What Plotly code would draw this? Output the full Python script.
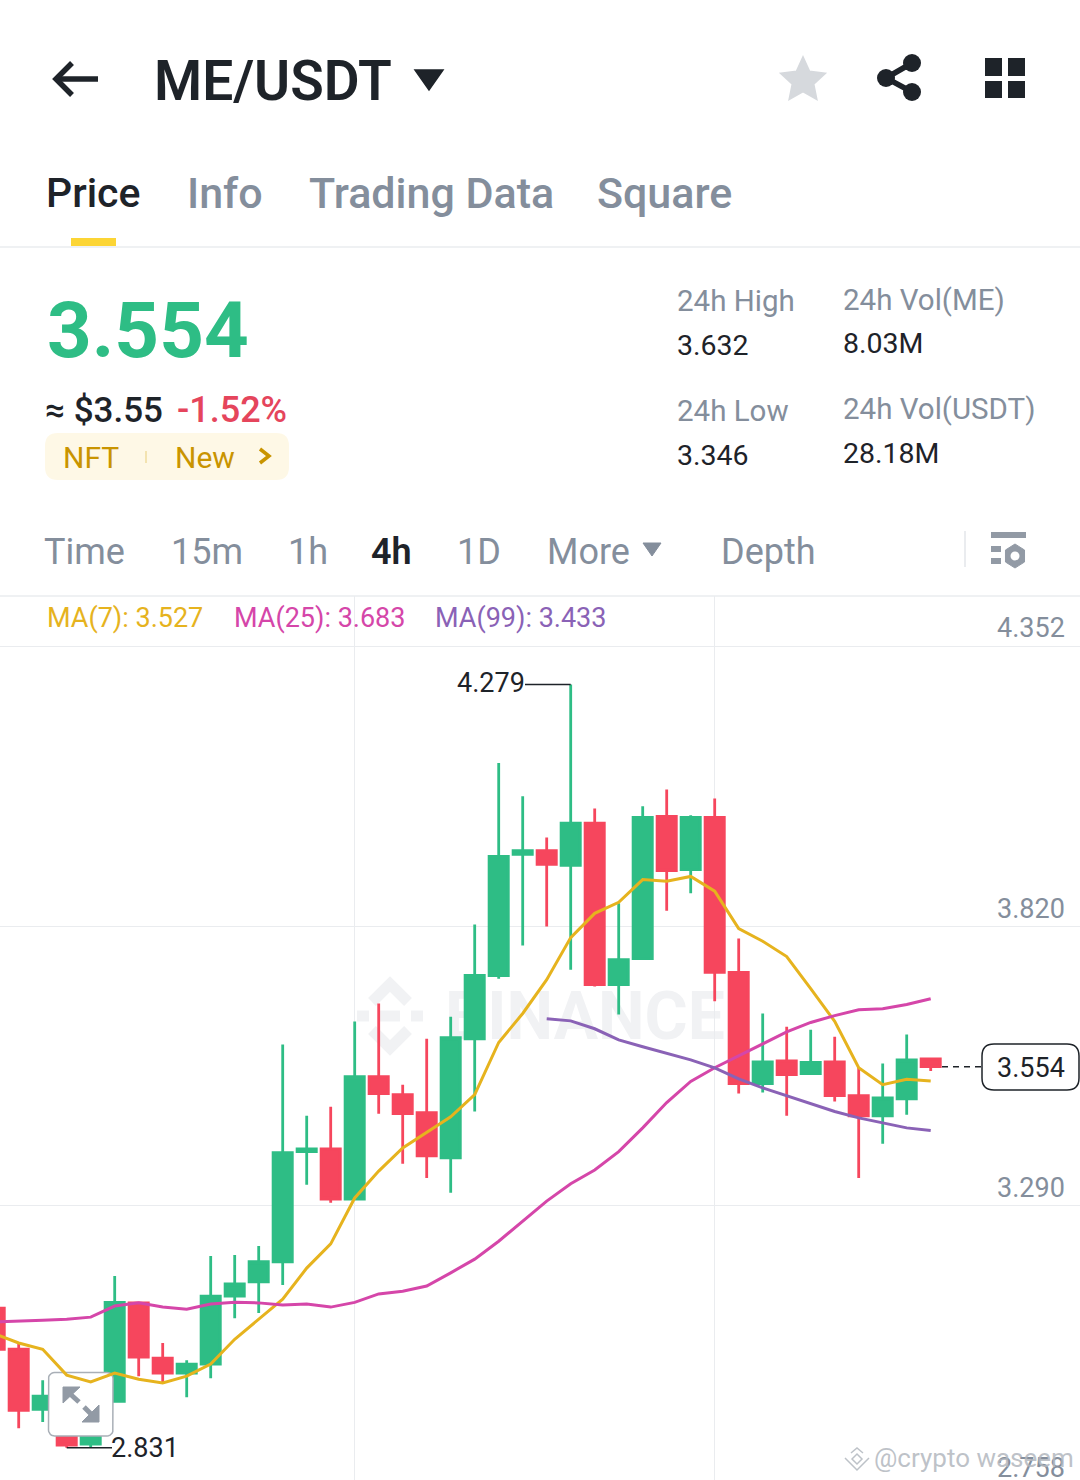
import math
import plotly.graph_objects as go

# ---- data --------------------------------------------------------------------
candle_index = list(range(-1, 39))
open_ = [3.096, 3.018, 2.904, 2.929, 2.838, 2.919, 3.106, 3.001, 2.973, 2.990,
         3.119, 3.146, 3.184, 3.393, 3.398, 3.303, 3.535, 3.501, 3.467, 3.381,
         3.607, 3.727, 3.957, 3.964, 3.936, 4.016, 3.710, 3.759, 4.029, 3.928,
         4.027, 3.733, 3.522, 3.565, 3.541, 3.563, 3.499, 3.461, 3.493, 3.569]
high = [3.110, 3.030, 2.959, 2.948, 2.938, 3.157, 3.107, 3.030, 2.997, 3.195,
        3.197, 3.214, 3.596, 3.461, 3.478, 3.640, 3.674, 3.520, 3.607, 3.649,
        3.824, 4.130, 4.067, 3.989, 4.279, 4.044, 3.864, 4.048, 4.080, 4.031,
        4.063, 3.797, 3.655, 3.630, 3.624, 3.611, 3.552, 3.560, 3.615, 3.571]
low = [3.018, 2.868, 2.880, 2.831, 2.832, 2.919, 2.967, 2.952, 2.927, 2.963,
       3.077, 3.087, 3.140, 3.330, 3.296, 3.303, 3.465, 3.370, 3.343, 3.315,
       3.469, 3.721, 3.784, 3.820, 3.738, 3.706, 3.653, 3.759, 3.850, 3.883,
       3.678, 3.503, 3.505, 3.461, 3.541, 3.488, 3.343, 3.408, 3.463, 3.546]
close = [3.018, 2.902, 2.929, 2.836, 2.919, 3.107, 3.003, 2.973, 2.990, 3.119,
         3.142, 3.184, 3.391, 3.398, 3.303, 3.535, 3.503, 3.465, 3.385, 3.609,
         3.727, 3.953, 3.964, 3.938, 4.016, 3.710, 3.757, 4.027, 3.926, 4.027,
         3.733, 3.522, 3.563, 3.539, 3.562, 3.499, 3.461, 3.495, 3.567, 3.554]
ma7 = [3.047, 3.030, 3.018, 2.969, 2.956, 2.973, 2.961, 2.954, 2.967, 2.990,
       3.037, 3.075, 3.113, 3.172, 3.218, 3.305, 3.356, 3.400, 3.429, 3.459,
       3.501, 3.600, 3.655, 3.719, 3.799, 3.845, 3.866, 3.909, 3.906, 3.915,
       3.887, 3.816, 3.792, 3.763, 3.702, 3.640, 3.552, 3.520, 3.530, 3.527]
ma25 = [3.070, 3.071, 3.073, 3.075, 3.079, 3.100, 3.106, 3.098, 3.094, 3.104,
        3.107, 3.106, 3.102, 3.104, 3.098, 3.107, 3.123, 3.128, 3.138, 3.163,
        3.189, 3.223, 3.261, 3.299, 3.332, 3.358, 3.393, 3.438, 3.486, 3.526,
        3.552, 3.575, 3.598, 3.620, 3.638, 3.651, 3.662, 3.664, 3.672, 3.683]
ma99_index = list(range(22, 39))
ma99 = [3.645, 3.641, 3.626, 3.605, 3.592, 3.579, 3.567, 3.552, 3.531, 3.514,
        3.499, 3.484, 3.469, 3.457, 3.448, 3.438, 3.433]
price_ticks = [4.352, 3.820, 3.290, 2.758]
price_tick_labels = ["4.352", "3.820", "3.290", "2.758"]
time_grid = [14, 29]
last_price = 3.554
peak_index, peak_price = 23, 4.279
trough_index, trough_price = 2, 2.831

# ---- colours -----------------------------------------------------------------
GREEN, RED = "#2EBD85", "#F6465D"
DARK, GRAY = "#1E2329", "#848E9C"
GRID = "#EAECEF"
C7, C25, C99 = "#E6B31E", "#D546A9", "#8A62B6"
FONT = "Roboto"
WM = "#F1F2F4"

# ---- scales: a full-page pixel layer (x, y) and the price chart (x2, y2) ------
PX0, DX = 18.7, 24.0
SCALE = 0.001897
Y382 = 926.5
def k_of(px):
    return (px - PX0) / DX
def px_of(k):
    return PX0 + DX * k
def p_of(py):
    return 3.82 + (Y382 - py) * SCALE
def py_of(p):
    return Y382 + (3.82 - p) / SCALE
CHART_TOP = 596

fig = go.Figure()

# watermark sits under the candles, in the lower subplot layer
fig.add_trace(go.Scatter(x=[585], y=[1022], mode="text", text=["BINANCE"],
                         textfont=dict(family=FONT, size=66, color=WM, weight=700),
                         hoverinfo="skip", showlegend=False, xaxis="x", yaxis="y"))
fig.add_trace(go.Scatter(x=[372, 390, 408, None, 372, 390, 408, None, 357, 369, None, 411, 423, None, 380, 400],
                         y=[1002, 984, 1002, None, 1030, 1048, 1030, None, 1016, 1016, None, 1016, 1016, None, 1016, 1016],
                         mode="lines", line=dict(color=WM, width=11),
                         hoverinfo="skip", showlegend=False, xaxis="x", yaxis="y"))

fig.add_trace(go.Candlestick(
    x=candle_index, open=open_, high=high, low=low, close=close,
    increasing=dict(line=dict(color=GREEN, width=2.8), fillcolor=GREEN),
    decreasing=dict(line=dict(color=RED, width=2.8), fillcolor=RED),
    whiskerwidth=0, showlegend=False, xaxis="x2", yaxis="y2"))

# expand button lies over the candles but under the moving averages
def rrect_pts(x0, y0, x1, y1, r):
    pts = []
    for cx, cy, a0 in [(x1 - r, y0 + r, -90), (x1 - r, y1 - r, 0), (x0 + r, y1 - r, 90), (x0 + r, y0 + r, 180)]:
        for i in range(7):
            a = math.radians(a0 + 15 * i)
            pts.append((cx + r * math.cos(a), cy + r * math.sin(a)))
    pts.append(pts[0])
    return pts
btn = rrect_pts(48.5, 1372.5, 113, 1436, 6)
fig.add_trace(go.Scatter(x=[k_of(a) for a, _ in btn], y=[p_of(b) for _, b in btn],
                         mode="lines", fill="toself", fillcolor="white",
                         line=dict(color="#A9AFB7", width=1.5),
                         hoverinfo="skip", showlegend=False, xaxis="x2", yaxis="y2"))

for name, xs, ys, col in [("MA(7)", candle_index, ma7, C7),
                          ("MA(25)", candle_index, ma25, C25),
                          ("MA(99)", ma99_index, ma99, C99)]:
    fig.add_trace(go.Scatter(x=xs, y=ys, mode="lines", name=name,
                             line=dict(color=col, width=3),
                             showlegend=False, xaxis="x2", yaxis="y2"))

# ---- chrome ------------------------------------------------------------------
shapes, notes = [], []
NOLINE = dict(color="rgba(0,0,0,0)", width=0)
def S(**kw):
    kw.setdefault("xref", "x"); kw.setdefault("yref", "y")
    kw.setdefault("line", NOLINE)
    shapes.append(kw)
def hline(y, x0=0, x1=1080, color=GRID, w=1.5):
    S(type="line", x0=x0, x1=x1, y0=y, y1=y, line=dict(color=color, width=w))
def poly(pts, fill=None, color=None, w=0, closed=False):
    p = "M" + " L".join(f"{a:.2f},{b:.2f}" for a, b in pts)
    if fill or closed:
        p += " Z"
    S(type="path", path=p, fillcolor=fill or "rgba(0,0,0,0)",
      line=dict(color=color or "rgba(0,0,0,0)", width=w))
def rrect(x0, y0, x1, y1, r, fill, color=None, w=0):
    p = (f"M{x0+r},{y0} L{x1-r},{y0} Q{x1},{y0} {x1},{y0+r} L{x1},{y1-r} Q{x1},{y1} {x1-r},{y1} "
         f"L{x0+r},{y1} Q{x0},{y1} {x0},{y1-r} L{x0},{y0+r} Q{x0},{y0} {x0+r},{y0} Z")
    S(type="path", path=p, fillcolor=fill, line=dict(color=color or "rgba(0,0,0,0)", width=w))
def T(text, x, y, size, color=DARK, anchor="left", weight=400, **kw):
    # annotation boxes carry a small padding, taken out here so x is the ink edge
    xpos = x - 3 if anchor == "left" else (x + 2 if anchor == "right" else x)
    notes.append(dict(text=text, x=xpos, y=y, xref="x", yref="y",
                      xanchor=anchor, yanchor="middle", showarrow=False,
                      font=dict(family=FONT, size=size, color=color, weight=weight), **kw))

# header
poly([(98, 79), (56, 79)], color=DARK, w=5.5)
poly([(72, 63), (56, 79), (72, 95)], color=DARK, w=5.5)
T("ME/USDT", 155, 81, 55, weight=600)
poly([(415, 70), (443, 70), (429, 90)], fill=DARK, color=DARK, w=1.5)
star = []
for i in range(10):
    r = 23 if i % 2 == 0 else 11
    a = math.radians(-90 + 36 * i)
    star.append((803 + r * math.cos(a), 80.5 + r * math.sin(a)))
poly(star, fill="#D6D9DD", color="#D6D9DD", w=2)
poly([(912, 63), (886, 78), (912, 92)], color=DARK, w=5.5)
for cx, cy in [(912, 63), (886, 78), (912, 92)]:
    S(type="circle", x0=cx - 9, x1=cx + 9, y0=cy - 9, y1=cy + 9, fillcolor=DARK)
for x0, x1 in [(985, 1002), (1008, 1025)]:
    for y0, y1 in [(58, 76), (81, 98)]:
        S(type="rect", x0=x0, x1=x1, y0=y0, y1=y1, fillcolor=DARK)

# tabs
T("Price", 47, 193, 41, DARK, weight=500)
T("Info", 188, 193, 43, GRAY, weight=500)
T("Trading Data", 310, 193, 43, GRAY, weight=500)
T("Square", 598, 193, 43, GRAY, weight=500)
S(type="rect", x0=71, x1=116, y0=238, y1=246, fillcolor="#FCD535")
hline(247)

# price block
T("3.554", 48, 330, 78, GREEN, weight=700)
T("≈ $3.55", 46, 410, 35, DARK, weight=500)
T("-1.52%", 178, 410, 36, "#E5455C", weight=500)
rrect(45, 433, 289, 480, 13, "#FEF8E6")
T("NFT", 64, 457, 30, "#C99400")
S(type="line", x0=146, x1=146, y0=451, y1=463, line=dict(color="#F3E3B0", width=2))
T("New", 176, 457, 30, "#C99400")
poly([(260, 449), (269, 456), (260, 463)], color="#C99400", w=3.5)

# 24h stats
T("24h High", 678, 301, 29.5, GRAY)
T("3.632", 678, 345, 28.5)
T("24h Low", 678, 411, 29.5, GRAY)
T("3.346", 678, 455, 28.5)
T("24h Vol(ME)", 844, 300, 29.5, GRAY)
T("8.03M", 844, 343, 28.5)
T("24h Vol(USDT)", 844, 409, 29.5, GRAY)
T("28.18M", 844, 453, 28.5)

# interval bar
for txt, x, col, wt in [("Time", 45, GRAY, 400), ("15m", 172, GRAY, 400), ("1h", 289, GRAY, 400),
                        ("4h", 372, DARK, 600), ("1D", 458, GRAY, 400), ("More", 548, GRAY, 400),
                        ("Depth", 722, GRAY, 400)]:
    T(txt, x, 552, 36, col, weight=wt)
poly([(643, 543), (661, 543), (652, 556)], fill=GRAY, color=GRAY, w=1)
S(type="line", x0=965, x1=965, y0=531, y1=567, line=dict(color=GRID, width=2))
S(type="rect", x0=991, x1=1026, y0=532, y1=538, fillcolor="#929AA5")
S(type="rect", x0=991, x1=1001, y0=546, y1=552, fillcolor="#929AA5")
S(type="rect", x0=991, x1=1001, y0=558, y1=564, fillcolor="#929AA5")
hexa = [(1015 + 11 * math.cos(math.radians(30 + 60 * i)), 556 + 12 * math.sin(math.radians(30 + 60 * i))) for i in range(6)]
poly(hexa, fill="#929AA5", color="#929AA5", w=1)
S(type="circle", x0=1010.5, x1=1019.5, y0=551.5, y1=560.5, fillcolor="white")
hline(CHART_TOP)

# MA legend
T("MA(7): 3.527", 48, 618, 27, C7)
T("MA(25): 3.683", 235, 618, 27, C25)
T("MA(99): 3.433", 436, 618, 27, C99)

# price axis labels, drawn above their grid lines
for v, lab in zip(price_ticks, price_tick_labels):
    T(lab, 1065, py_of(v) - 18, 27, GRAY, anchor="right")

# extreme markers
S(type="line", x0=525, x1=px_of(peak_index), y0=peak_price, y1=peak_price, yref="y2",
  line=dict(color=DARK, width=1.5))
T(f"{peak_price:.3f}", 525, py_of(peak_price) - 2, 27, anchor="right")
S(type="line", x0=px_of(trough_index), x1=112, y0=trough_price, y1=trough_price, yref="y2",
  line=dict(color=DARK, width=1.5))
T(f"{trough_price:.3f}", 112, py_of(trough_price), 27)

# last price tag
S(type="line", x0=942, x1=982, y0=last_price, y1=last_price, yref="y2",
  line=dict(color=DARK, width=1.5, dash="6px,5px"))
rrect(982, 1044, 1079, 1090, 12, "white", DARK, 1.5)
T(f"{last_price:.3f}", 1031, 1068, 27, anchor="center")

# expand icon
ICON = "#929AA5"
poly([(63, 1387), (80, 1387), (63, 1403)], fill=ICON, color=ICON, w=1)
poly([(99, 1422), (82, 1422), (99, 1405)], fill=ICON, color=ICON, w=1)
poly([(68, 1392), (79, 1402)], color=ICON, w=5)
poly([(84, 1407), (94, 1417)], color=ICON, w=5)

# photographer's credit
CRED = "rgba(178,183,190,0.85)"
T("@crypto waseem", 875, 1458, 26, CRED)
poly([(845, 1458), (857, 1470), (869, 1458)], color=CRED, w=1.5)
poly([(851, 1453), (857, 1448), (863, 1453)], color=CRED, w=1.5)
poly([(852, 1459), (857, 1454), (862, 1459), (857, 1464)], color=CRED, w=1.5, closed=True)

fig.update_layout(
    width=1080, height=1480, margin=dict(l=0, r=0, t=0, b=0),
    paper_bgcolor="white", plot_bgcolor="rgba(0,0,0,0)", showlegend=False,
    shapes=shapes, annotations=notes, font=dict(family=FONT),
    boxgap=0.2, boxgroupgap=0,
    xaxis=dict(domain=[0, 1], range=[0, 1080], visible=False, fixedrange=True),
    yaxis=dict(domain=[0, 1], range=[1480, 0], visible=False, fixedrange=True),
    xaxis2=dict(domain=[0, 1], anchor="y2", range=[k_of(0), k_of(1080)], rangeslider=dict(visible=False),
                tickvals=time_grid, showgrid=True, gridcolor=GRID, gridwidth=1.2,
                showticklabels=False, ticks="", zeroline=False, showline=False, fixedrange=True),
    yaxis2=dict(domain=[0, 1 - CHART_TOP / 1480], anchor="x2", range=[p_of(1480), p_of(CHART_TOP)],
                tickvals=price_ticks, showgrid=True, gridcolor=GRID, gridwidth=1.2,
                showticklabels=False, ticks="", zeroline=False, showline=False, fixedrange=True),
)
fig.write_html("out.html", config=dict(displayModeBar=False),
               post_script="document.body.style.margin='0';document.documentElement.style.overflow='hidden';")
